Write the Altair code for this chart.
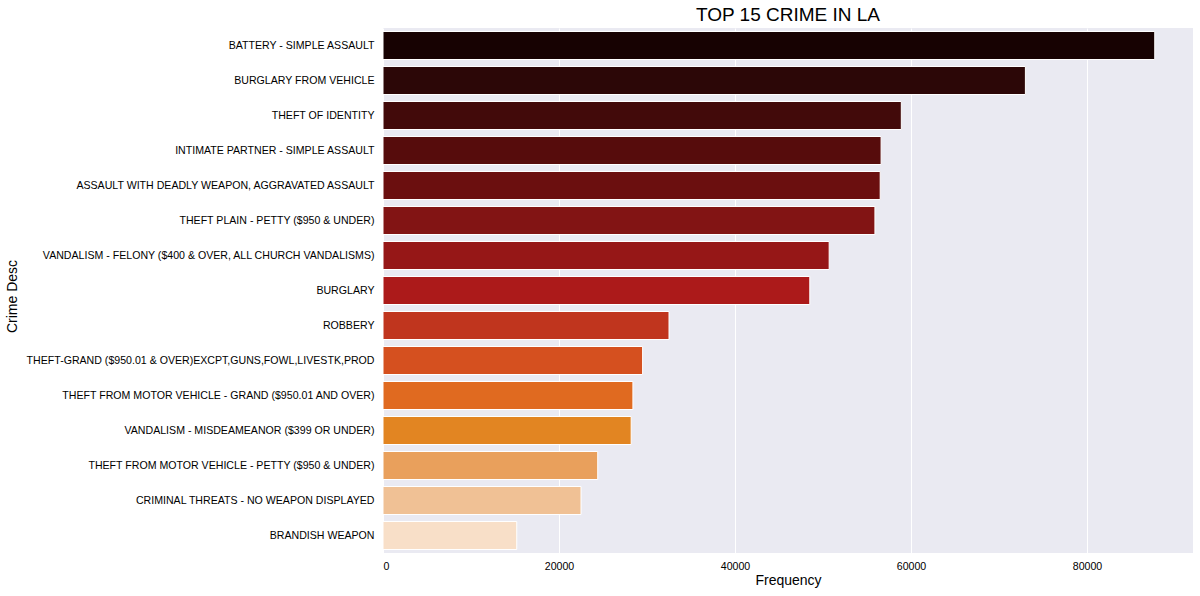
import altair as alt
import pandas as pd

crimes = [
    "BATTERY - SIMPLE ASSAULT",
    "BURGLARY FROM VEHICLE",
    "THEFT OF IDENTITY",
    "INTIMATE PARTNER - SIMPLE ASSAULT",
    "ASSAULT WITH DEADLY WEAPON, AGGRAVATED ASSAULT",
    "THEFT PLAIN - PETTY ($950 & UNDER)",
    "VANDALISM - FELONY ($400 & OVER, ALL CHURCH VANDALISMS)",
    "BURGLARY",
    "ROBBERY",
    "THEFT-GRAND ($950.01 & OVER)EXCPT,GUNS,FOWL,LIVESTK,PROD",
    "THEFT FROM MOTOR VEHICLE - GRAND ($950.01 AND OVER)",
    "VANDALISM - MISDEAMEANOR ($399 OR UNDER)",
    "THEFT FROM MOTOR VEHICLE - PETTY ($950 & UNDER)",
    "CRIMINAL THREATS - NO WEAPON DISPLAYED",
    "BRANDISH WEAPON",
]
frequency = [87700, 73000, 58900, 56600, 56500, 55900, 50700, 48500,
             32500, 29500, 28400, 28200, 24400, 22500, 15200]
colors = ["#170202", "#2c0707", "#420a0a", "#560c0c", "#6b0f0f", "#821414",
          "#961717", "#ac1a1a", "#c0351e", "#d5501f", "#e06a20", "#e28522",
          "#e9a05c", "#f0c195", "#f8dfc8"]
x_ticks = [0, 20000, 40000, 60000, 80000]

df = pd.DataFrame({"Crime Desc": crimes, "Frequency": frequency})

FONT = "Liberation Sans"

chart = alt.Chart(df).mark_bar(stroke="white", strokeWidth=1).encode(
    x=alt.X("Frequency:Q",
            scale=alt.Scale(domain=[0, 92045], nice=False, zero=True),
            axis=alt.Axis(values=x_ticks, format="d", title="Frequency",
                          grid=True, gridColor="white", gridWidth=1,
                          ticks=False, domain=False, labelPadding=8,
                          labelFontSize=10.6, labelColor="#000000",
                          titleFontSize=14, titleFontWeight="normal",
                          titleColor="#000000", titlePadding=2,
                          labelFont=FONT, titleFont=FONT)),
    y=alt.Y("Crime Desc:N", sort=crimes,
            scale=alt.Scale(paddingInner=0.2, paddingOuter=0.1),
            axis=alt.Axis(title="Crime Desc", ticks=False, domain=False,
                          grid=False, labelPadding=9, labelFontSize=10.6,
                          labelColor="#000000", labelLimit=500,
                          titleFontSize=14, titleFontWeight="normal",
                          titleColor="#000000", titleX=-371,
                          titleY=268, titleAngle=-90, titleAlign="center",
                          titleBaseline="middle",
                          labelFont=FONT, titleFont=FONT)),
    color=alt.Color("Crime Desc:N",
                    scale=alt.Scale(domain=crimes, range=colors),
                    legend=None),
).properties(
    width=810,
    height=525,
    background="white",
    title=alt.TitleParams("TOP 15 CRIME IN LA", fontSize=19,
                          fontWeight="normal", font=FONT, color="#000000",
                          anchor="middle", offset=3),
    padding={"left": 383, "top": 28, "right": 7, "bottom": 43},
    autosize=alt.AutoSizeParams(type="none"),
).configure_view(
    fill="#eaeaf2", strokeWidth=0
)

chart.save("out.html", embed_options={"renderer": "svg", "actions": False})
